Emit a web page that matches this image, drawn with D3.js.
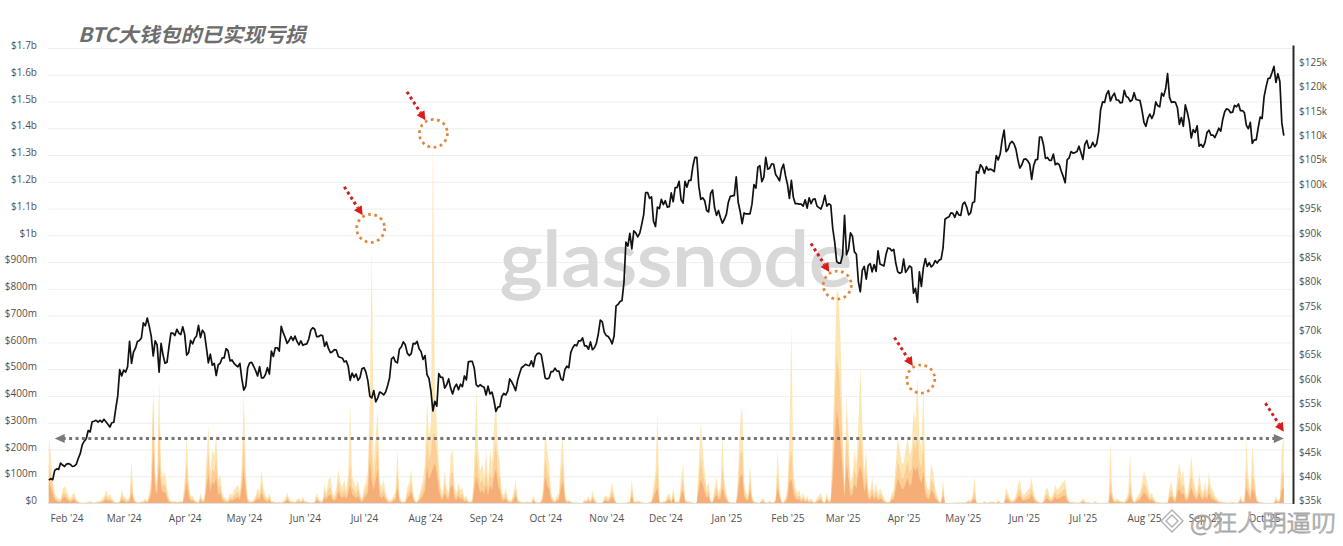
<!DOCTYPE html>
<html><head><meta charset="utf-8">
<script src="https://cdn.jsdelivr.net/npm/d3@7"></script>
<style>html,body{margin:0;padding:0;background:#fff;}svg{display:block}</style>
</head><body>
<svg id="chart" width="1343" height="546"></svg>
<script>
// ---------------- DATA ----------------
const firstDay = new Date(2024, 0, 23);
const lastDay = new Date(2025, 9, 11);

// BTC daily price, thousands USD (2024-01-23 .. 2025-10-11)
const btcPriceK = [
39.8,40.1,39.9,41.8,42.1,42.0,43.3,42.9,42.6,
43.1,43.2,43.0,42.6,42.7,43.1,44.3,45.3,47.1,47.8,48.3,50.0,49.7,51.8,51.9,52.1,51.7,52.1,51.7,52.3,51.8,51.3,50.7,51.6,51.7,54.5,57.1,62.5,61.2,
62.4,62.0,63.1,68.3,63.8,66.1,66.9,68.3,68.5,69.0,72.1,71.5,73.1,71.4,69.4,65.3,68.4,67.6,62.0,67.9,65.5,63.8,64.0,67.2,70.0,70.0,69.5,70.8,70.0,69.7,71.3,
69.7,65.5,66.0,68.5,67.8,68.9,69.4,71.6,69.1,70.6,70.0,67.1,63.9,65.7,63.4,63.8,61.3,63.5,63.8,64.9,64.9,66.8,66.4,64.3,64.5,63.8,63.4,63.1,63.8,60.6,
58.3,59.1,62.9,63.9,64.0,63.2,62.3,61.2,63.1,60.8,60.8,61.5,62.9,61.6,66.3,65.2,67.0,67.0,66.3,71.4,70.1,69.1,67.9,68.5,69.3,68.5,69.4,68.3,67.6,68.4,67.5,
67.7,67.8,68.8,70.6,71.1,70.8,69.3,69.3,69.6,69.5,67.3,68.2,66.8,66.0,66.2,66.6,66.5,65.2,65.0,64.9,64.1,64.3,63.2,60.3,61.8,60.9,61.6,60.3,60.9,62.7,
62.9,62.0,60.2,57.0,56.7,58.2,55.9,56.7,57.9,57.7,57.3,57.9,59.2,60.8,64.7,65.1,64.1,63.9,66.7,67.2,68.2,67.6,65.9,65.4,65.8,67.9,67.8,68.3,66.8,66.2,64.6,
65.4,61.5,60.7,58.1,54.0,56.0,55.0,61.7,60.9,60.9,58.7,59.4,60.6,58.7,57.5,58.9,59.5,58.4,59.5,59.0,61.2,60.4,64.1,64.2,64.2,62.8,59.4,59.0,59.4,59.1,58.9,
57.3,59.1,57.5,57.9,56.2,53.9,54.8,54.9,57.0,57.6,57.3,58.1,60.6,60.0,59.2,58.2,60.3,61.7,62.9,63.2,63.6,63.4,63.3,64.3,63.1,65.2,65.8,65.9,65.6,63.3,
60.8,60.6,60.8,62.1,62.1,62.8,62.2,62.2,60.6,60.3,62.5,63.2,62.9,66.0,67.0,67.6,67.4,68.4,68.4,69.0,67.4,67.4,66.7,68.2,66.6,67.0,67.9,69.9,72.7,72.3,70.2,
69.5,69.3,68.7,67.8,69.4,75.6,75.9,76.5,76.7,80.4,88.7,87.9,90.5,87.3,91.0,90.6,89.8,90.5,92.3,94.3,98.9,98.9,97.7,98.0,93.0,91.9,95.9,95.6,97.5,96.4,
97.2,95.9,96.0,98.8,97.0,99.9,99.9,101.2,97.4,96.7,101.2,100.0,101.4,101.4,104.3,106.1,106.1,100.2,97.5,97.8,97.2,95.2,94.9,98.7,99.4,95.8,94.2,95.2,93.7,92.6,93.4,
94.4,96.9,98.1,98.2,98.3,102.1,96.9,95.0,92.5,94.7,94.5,94.5,94.5,96.5,100.5,99.8,104.1,104.4,101.1,102.0,106.1,103.7,103.9,104.8,104.7,102.6,102.0,101.3,103.7,104.7,102.4,
100.6,97.7,101.4,97.9,96.6,96.6,96.5,96.5,96.1,97.4,95.7,97.8,96.6,97.5,97.6,96.1,95.8,95.5,96.6,98.3,96.1,96.6,96.3,91.5,88.7,84.7,84.4,84.4,
86.0,94.2,86.1,87.2,90.6,89.9,86.7,86.2,80.6,78.5,82.9,83.7,81.1,83.9,84.3,82.6,84.1,82.7,86.9,84.2,84.0,83.8,86.1,87.5,87.4,86.9,87.2,84.4,82.6,82.3,82.5,
85.2,82.5,83.1,83.8,83.5,78.2,79.2,76.3,82.6,79.6,83.4,85.3,83.7,84.5,83.6,84.0,84.9,84.4,85.0,85.2,87.5,93.4,93.7,93.9,94.7,94.6,93.8,95.0,94.3,94.2,
96.5,96.9,95.9,94.3,94.7,96.8,97.0,103.2,102.9,104.6,104.1,102.8,104.2,103.5,103.7,103.5,103.2,106.5,105.6,106.8,109.7,111.7,107.3,107.8,109.0,109.4,108.9,107.8,105.6,103.9,104.6,
105.7,105.8,105.4,104.7,101.6,104.4,105.6,105.7,110.3,110.3,108.7,105.9,106.1,105.5,105.5,106.8,104.6,104.9,104.6,103.3,102.2,100.9,105.6,106.0,107.3,107.0,107.1,107.3,108.4,107.1,
105.7,108.8,109.6,108.0,108.2,109.2,108.3,108.9,111.3,115.9,117.5,117.4,119.1,119.8,117.7,118.7,119.3,117.9,117.9,117.3,117.4,119.9,118.6,118.4,117.6,117.9,119.4,118.0,117.9,117.8,115.8,
113.3,112.5,114.2,115.0,114.1,115.0,117.5,116.7,116.5,119.3,118.7,120.2,123.3,118.4,117.4,117.5,117.4,116.3,112.9,114.3,112.5,116.9,115.4,113.5,110.1,111.8,111.2,112.6,108.4,108.8,108.2,
109.2,111.2,111.7,110.7,110.7,110.2,111.1,112.1,111.5,113.9,115.5,116.1,115.9,115.3,115.4,116.8,116.5,117.1,115.7,115.7,115.3,112.7,112.0,113.3,109.0,109.7,109.7,112.2,114.4,114.1,
118.6,120.6,122.3,122.4,123.5,124.8,121.5,123.3,121.7,113.2,110.6
];

// Realized loss of large wallets, millions USD, daily (same days)
const lossTotalM = [
250,180,90,40,25,20,15,55,65,
50,30,20,35,40,15,8,5,4,4,6,5,10,5,4,6,8,10,15,25,50,30,35,20,10,5,5,10,50,
30,20,15,25,160,30,10,6,5,8,10,20,8,40,90,440,120,80,470,130,100,120,60,20,10,8,10,6,8,10,8,
90,250,80,30,30,15,10,5,40,15,20,150,290,120,200,180,260,90,110,40,25,15,12,40,30,50,60,70,40,150,
415,120,20,10,8,15,30,60,40,128,60,30,20,40,10,8,5,5,6,4,10,15,40,20,8,10,6,15,20,10,25,
10,8,6,5,5,6,40,20,10,12,70,40,90,100,40,30,60,130,80,60,90,50,110,370,100,80,60,90,40,15,
60,80,120,400,960,150,260,350,80,60,90,40,20,10,15,30,40,200,30,10,8,10,60,80,130,40,10,8,30,60,90,
150,380,250,300,1370,420,300,150,60,40,120,60,40,180,200,60,40,80,50,60,20,30,10,8,10,150,430,200,120,150,100,
200,80,200,150,280,400,200,150,40,30,60,20,10,15,40,90,20,10,6,5,5,8,6,5,30,8,5,5,10,60,
280,200,150,40,20,10,30,40,180,250,40,10,15,8,5,4,5,4,3,3,15,12,30,8,50,20,6,4,3,3,25,
30,20,40,80,30,5,4,3,3,3,3,8,6,90,10,8,12,10,5,4,3,3,6,10,60,120,340,8,5,8,
10,30,40,8,60,5,10,6,90,150,20,10,8,6,4,3,5,150,300,200,120,60,80,10,8,60,100,40,60,250,80,
40,10,6,5,5,4,120,300,370,80,40,30,150,30,8,6,4,3,20,15,4,6,10,6,5,20,200,60,8,6,20,
60,250,665,120,60,40,50,20,40,15,30,10,20,8,6,20,30,40,10,6,40,10,20,250,500,800,780,600,
300,60,400,250,80,100,200,150,300,515,300,120,200,60,40,100,40,80,30,60,40,20,8,6,10,40,50,150,250,200,150,
150,200,250,180,200,350,300,470,250,200,440,100,60,50,150,120,60,30,10,8,90,4,3,3,4,3,5,4,6,5,
5,4,8,15,10,30,100,5,4,3,3,10,4,5,6,8,5,3,15,4,3,3,60,40,20,10,15,30,70,90,40,
30,40,50,60,97,40,20,10,5,4,10,50,60,30,20,40,70,50,60,70,80,90,30,10,5,6,5,4,4,8,
20,10,5,6,4,3,8,5,3,3,3,4,3,3,230,40,10,20,15,10,8,6,20,40,190,30,5,20,30,40,80,
120,100,60,30,40,20,8,6,5,4,4,5,3,60,80,30,20,110,150,100,120,40,30,90,178,100,60,40,120,60,40,
80,40,120,60,50,30,20,10,8,6,5,4,4,5,6,5,4,6,30,10,8,240,100,40,220,120,30,8,6,5,
4,3,3,3,3,3,30,10,20,200,260
];
const lossMidM = [
150,110,60,25,15,12,10,35,40,
30,18,12,20,25,9,5,3,2,2,4,3,6,3,2,4,5,6,9,15,30,18,20,12,6,3,3,6,30,
18,12,9,15,90,18,6,4,3,5,6,12,5,25,60,380,80,55,300,85,65,75,35,12,6,5,6,4,5,6,5,
55,150,50,18,18,9,6,3,25,9,12,95,190,75,130,115,170,55,70,25,15,9,7,25,18,30,36,42,25,95,
250,75,12,6,5,9,18,36,25,75,36,18,12,25,6,5,3,3,4,2,6,9,25,12,5,6,4,9,12,6,15,
6,5,4,3,3,4,25,12,6,7,42,25,55,60,25,18,36,80,50,36,55,30,65,150,60,50,36,55,25,9,
36,50,75,280,180,90,160,230,50,36,55,25,12,6,9,18,25,120,18,6,5,6,36,50,80,25,6,5,18,36,55,
90,240,160,190,260,260,190,90,36,25,75,36,25,110,120,36,25,50,30,36,12,18,6,5,6,90,200,120,75,90,60,
120,50,120,90,170,230,120,90,25,18,36,12,6,9,25,55,12,6,4,3,3,5,4,3,18,5,3,3,6,36,
170,120,90,25,12,6,18,25,110,150,25,6,9,5,3,2,3,2,2,2,9,7,18,5,30,12,4,2,2,2,15,
18,12,25,50,18,3,2,2,2,2,2,5,4,55,6,5,7,6,3,2,2,2,4,6,36,75,140,5,3,5,
6,18,25,5,36,3,6,4,55,90,12,6,5,4,2,2,3,90,170,120,75,36,50,6,5,36,60,25,36,130,50,
25,6,4,3,3,2,75,180,200,50,25,18,90,18,5,4,2,2,12,9,2,4,6,4,3,12,110,36,5,4,12,
36,150,200,75,36,25,30,12,25,9,18,6,12,5,4,12,18,25,6,4,25,6,12,150,350,550,500,380,
200,36,260,160,50,60,130,95,190,260,190,75,130,36,25,60,25,50,18,36,25,12,5,4,6,25,30,95,160,130,95,
95,130,160,115,130,230,200,250,160,130,220,60,36,30,90,75,36,18,6,5,55,2,2,2,2,2,3,2,4,3,
3,2,5,9,6,18,45,3,2,2,2,6,2,3,4,5,3,2,9,2,2,2,36,25,12,6,9,18,42,55,25,
18,25,30,36,60,25,12,6,3,2,6,30,36,18,12,25,42,30,36,42,50,55,18,6,3,4,3,2,2,5,
12,6,3,4,2,2,5,3,2,2,2,2,2,2,90,25,6,12,9,6,5,4,12,25,80,18,3,12,18,25,50,
75,60,36,18,25,12,5,4,3,2,2,3,2,36,50,18,12,70,95,60,75,25,18,55,110,60,36,25,75,36,25,
50,25,75,36,30,18,12,6,5,4,3,2,2,3,4,3,2,4,18,6,5,120,60,25,110,75,18,5,4,3,
2,2,2,2,2,2,18,6,12,100,120
];
const lossDeepM = [
80,60,35,15,8,6,5,20,25,
18,10,6,12,14,5,3,2,1,1,2,2,3,2,1,2,3,3,5,8,16,10,12,6,3,2,2,3,15,
10,6,5,8,40,10,3,2,2,3,3,6,3,14,35,200,50,35,150,55,40,45,20,6,3,3,3,2,3,3,3,
30,80,28,10,10,5,3,2,14,5,6,55,110,45,80,70,100,30,40,14,8,5,4,14,10,16,20,24,14,55,
130,40,6,3,3,5,10,20,14,40,20,10,6,14,3,3,2,2,2,1,3,5,14,6,3,3,2,5,6,3,8,
3,3,2,2,2,2,14,6,3,4,24,14,30,34,14,10,20,45,28,20,30,16,36,70,34,28,20,30,14,5,
20,28,40,160,80,50,90,130,28,20,30,14,6,3,5,10,14,60,10,3,3,3,20,28,45,14,3,3,10,20,30,
50,140,90,110,130,150,110,50,20,14,40,20,14,60,70,20,14,28,16,20,6,10,3,3,3,50,100,70,40,50,34,
70,28,70,50,100,130,70,50,14,10,20,6,3,5,14,30,6,3,2,2,2,3,2,2,10,3,2,2,3,20,
100,70,50,14,6,3,10,14,60,85,14,3,5,3,2,1,2,1,1,1,5,4,10,3,16,6,2,1,1,1,8,
10,6,14,28,10,2,1,1,1,1,1,3,2,30,3,3,4,3,2,1,1,1,2,3,20,40,60,3,2,3,
3,10,14,3,20,2,3,2,30,50,6,3,3,2,1,1,2,50,90,70,40,20,28,3,3,20,34,14,20,60,28,
14,3,2,2,2,1,40,100,110,28,14,10,50,10,3,2,1,1,6,5,1,2,3,2,2,6,60,20,3,2,6,
20,80,90,40,20,14,16,6,14,5,10,3,6,3,2,6,10,14,3,2,14,3,6,90,220,350,300,220,
120,20,150,90,28,34,75,55,110,140,110,40,75,20,14,34,14,28,10,20,14,6,3,2,3,14,16,55,95,75,55,
55,75,95,65,75,140,120,140,95,75,120,34,20,16,50,40,20,10,3,3,30,1,1,1,1,1,2,1,2,2,
2,1,3,5,3,10,20,2,1,1,1,3,1,2,2,3,2,1,5,1,1,1,20,14,6,3,5,10,24,30,14,
10,14,16,20,34,14,6,3,2,1,3,16,20,10,6,14,24,16,20,24,28,30,10,3,2,2,2,1,1,3,
6,3,2,2,1,1,3,2,1,1,1,1,1,1,40,14,3,6,5,3,3,2,6,14,35,10,2,6,10,14,28,
40,34,20,10,14,6,3,2,2,1,1,2,1,20,28,10,6,40,55,34,40,14,10,30,60,34,20,14,40,20,14,
28,14,40,20,16,10,6,3,3,2,2,1,1,2,2,2,1,2,10,3,3,60,34,14,55,40,10,3,2,2,
1,1,1,1,1,1,10,3,6,50,60
];

// axis ticks
const lossTicksM = d3.range(0, 1701, 100);
const priceTicksK = d3.range(35, 126, 5);
const monthTicks = d3.timeMonth.range(new Date(2024, 1, 1), new Date(2025, 9, 2));

// annotations: circled loss spikes (date, $m) and the threshold line
const circledSpikes = [
  { date: new Date(2024, 6, 4, 10), value: 1028 },
  { date: new Date(2024, 7, 5, 6), value: 1383 },
  { date: new Date(2025, 1, 26, 8), value: 816 },
  { date: new Date(2025, 3, 9, 17), value: 465 }
];
const pointedSpike = { date: new Date(2025, 9, 11), value: 268 };
const thresholdLine = { from: new Date(2024, 0, 26), to: new Date(2025, 9, 11), value: 243 };

const titleText = "BTC大钱包的已实现亏损";

// ---------------- CHART ----------------
const svg = d3.select("#chart");
const dates = btcPriceK.map((_, i) => d3.timeDay.offset(firstDay, i));
const rows = dates.map((d, i) => ({ d, p: btcPriceK[i], t: lossTotalM[i] || 0, m: lossMidM[i] || 0, k: lossDeepM[i] || 0 }));

const x = d3.scaleTime().domain([firstDay, lastDay]).range([48.8, 1283.8]);
const yL = d3.scaleLinear().domain([0, 1700]).range([503.5, 48.5]);
const yR = d3.scaleLinear().domain([35, 129.2]).range([503.5, 45]);

const font = "'Open Sans', 'Liberation Sans', sans-serif";

// gridlines
svg.append("g").selectAll("line").data(lossTicksM.filter(v => v > 0)).join("line")
  .attr("x1", 48).attr("x2", 1292).attr("y1", d => yL(d)).attr("y2", d => yL(d))
  .attr("stroke", "#efefef").attr("stroke-width", 1);

// watermark
svg.append("text").attr("x", 500).attr("y", 286)
  .attr("textLength", 352).attr("lengthAdjust", "spacingAndGlyphs")
  .style("font-family", "Lato, 'Open Sans', sans-serif").style("font-size", "76px").style("font-weight", 400)
  .attr("fill", "#d8d8d8").attr("stroke", "#d8d8d8").attr("stroke-width", 1.6).text("glassnode");

// loss areas
const areaOf = key => d3.area().x(r => x(r.d)).y0(yL(0)).y1(r => yL(r[key]));
svg.append("path").datum(rows).attr("d", areaOf("t")).attr("fill", "#fde6b4");
svg.append("path").datum(rows).attr("d", areaOf("m")).attr("fill", "#fbcf96");
svg.append("path").datum(rows).attr("d", areaOf("k")).attr("fill", "#f6ae79");

// baseline
svg.append("line").attr("x1", 48).attr("x2", 1292).attr("y1", yL(0)).attr("y2", yL(0))
  .attr("stroke", "#dde2e8").attr("stroke-width", 1.2);

// price line
svg.append("path").datum(rows)
  .attr("d", d3.line().x(r => x(r.d)).y(r => yR(r.p)))
  .attr("fill", "none").attr("stroke", "#111").attr("stroke-width", 1.7).attr("stroke-linejoin", "round");

// axes
const fmtLoss = v => v === 0 ? "$0" : v < 1000 ? `$${v}m` : `$${d3.format("~g")(v / 1000)}b`;
const gL = svg.append("g").attr("transform", "translate(40,0)")
  .call(d3.axisLeft(yL).tickValues(lossTicksM).tickFormat(fmtLoss).tickSize(0).tickPadding(3));
gL.select(".domain").remove();
gL.selectAll("text").attr("dy", "0.02em").style("font-family", font).style("font-size", "10px").attr("fill", "#505050");

const gR = svg.append("g").attr("transform", "translate(1293,0)")
  .call(d3.axisRight(yR).tickValues(priceTicksK).tickFormat(v => `$${v}k`).tickSize(0).tickPadding(6));
gR.select(".domain").attr("stroke", "#2a2a2a").attr("stroke-width", 2);
gR.selectAll("text").attr("dy", "0.02em").style("font-family", font).style("font-size", "10px").attr("fill", "#505050");

const gB = svg.append("g").attr("transform", `translate(0,${yL(0)})`)
  .call(d3.axisBottom(x).tickValues(monthTicks).tickFormat(d3.timeFormat("%b '%y")).tickSize(0).tickPadding(11.5));
gB.select(".domain").remove();
gB.selectAll("text").style("font-family", font).style("font-size", "10px").attr("fill", "#505050");

// threshold double arrow
const ty = yL(thresholdLine.value), tx1 = x(thresholdLine.from), tx2 = x(thresholdLine.to);
svg.append("line").attr("x1", tx1 + 8).attr("x2", tx2 - 8).attr("y1", ty).attr("y2", ty)
  .attr("stroke", "#737373").attr("stroke-width", 3).attr("stroke-dasharray", "3,3.4");
svg.append("path").attr("d", `M${tx1},${ty}L${tx1 + 10},${ty - 4.5}L${tx1 + 10},${ty + 4.5}Z`).attr("fill", "#7a7a7a");
svg.append("path").attr("d", `M${tx2},${ty}L${tx2 - 10},${ty - 4.5}L${tx2 - 10},${ty + 4.5}Z`).attr("fill", "#7a7a7a");

// circles + red arrows
function redArrow(tipX, tipY) {
  const ang = Math.atan2(28, 18), len = 34;
  const ux = Math.cos(ang), uy = Math.sin(ang);
  const sx = tipX - ux * len, sy = tipY - uy * len;
  const hx = tipX - ux * 9, hy = tipY - uy * 9;
  svg.append("line").attr("x1", sx).attr("y1", sy).attr("x2", hx).attr("y2", hy)
    .attr("stroke", "#cf1f1f").attr("stroke-width", 3).attr("stroke-dasharray", "3,3");
  const px = -uy * 4.6, py = ux * 4.6;
  svg.append("path").attr("d", `M${tipX},${tipY}L${hx + px},${hy + py}L${hx - px},${hy - py}Z`).attr("fill", "#dd1a1a");
}
circledSpikes.forEach(s => {
  const cx = x(s.date), cy = yL(s.value);
  svg.append("circle").attr("cx", cx).attr("cy", cy).attr("r", 14)
    .attr("fill", "none").attr("stroke", "#e0863a").attr("stroke-width", 2.7).attr("stroke-dasharray", "2.7,3.6");
  redArrow(cx - 8, cy - 13);
});
redArrow(x(pointedSpike.date), yL(pointedSpike.value));

// title
svg.append("text").attr("x", 78).attr("y", 42).attr("textLength", 228).attr("lengthAdjust", "spacingAndGlyphs")
  .style("font-family", "'Noto Sans CJK SC', sans-serif").style("font-size", "20px").style("font-weight", 700).style("font-style", "italic")
  .attr("fill", "#6d6d6d").text(titleText);

// reposter watermark (bottom right)
const wm = svg.append("g").attr("opacity", 0.9);
wm.append("path").attr("d", "M1172,510L1183,521L1172,532L1161,521Z").attr("fill", "#fff").attr("stroke", "#a8a8a8").attr("stroke-width", 1.4);
wm.append("path").attr("d", "M1172,515L1178,521L1172,527L1166,521Z").attr("fill", "none").attr("stroke", "#a8a8a8").attr("stroke-width", 1.4);
wm.append("text").attr("x", 1190).attr("y", 531).attr("textLength", 146).attr("lengthAdjust", "spacingAndGlyphs")
  .style("font-family", "'Noto Sans CJK SC', sans-serif").style("font-size", "23px").style("font-weight", 300)
  .attr("fill", "#ffffff").attr("stroke", "#a0a0a0").attr("stroke-width", 0.9).text("@狂人明逼叨");

const lens = [btcPriceK.length, lossTotalM.length, lossMidM.length, lossDeepM.length];
if (new Set(lens).size !== 1 || lens[0] !== 628) throw new Error("length mismatch " + lens.join(","));
</script>
</body></html>
